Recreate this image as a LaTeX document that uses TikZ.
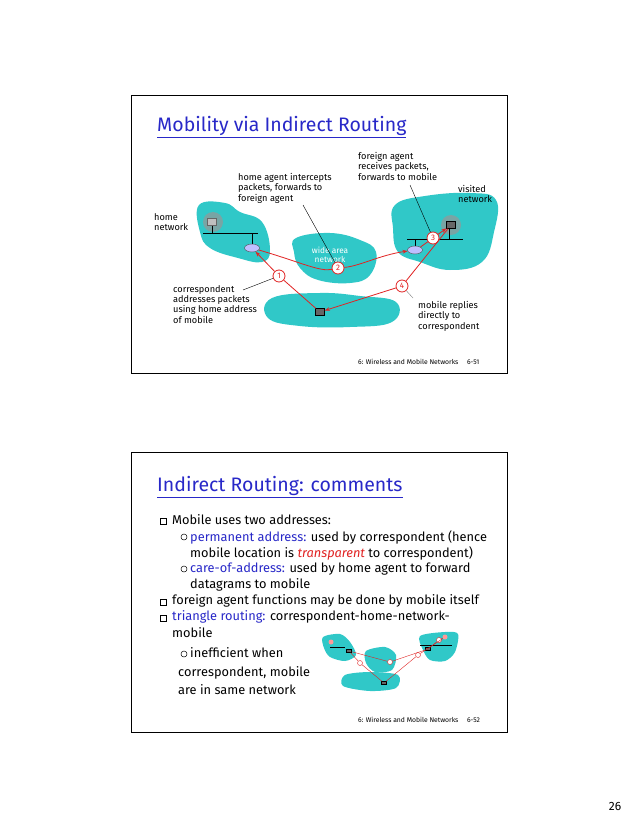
\documentclass[tikz,border=0pt]{standalone}
\usepackage{fontspec}
\setmainfont{Fira Sans}
\usetikzlibrary{shapes.geometric,arrows.meta}
\definecolor{netc}{RGB}{48,200,200}
\definecolor{ttl}{RGB}{40,40,200}
\definecolor{rl}{RGB}{225,35,35}
\tikzset{
 blob/.style={fill=netc,draw=none},
 lbl/.style={font=\fontsize{9.2}{10.4}\selectfont,align=left,anchor=north west,inner sep=0pt},
 router/.style={ellipse,draw=black!70,fill=blue!25,minimum width=15pt,minimum height=8pt,inner sep=0pt},
 pc/.style={draw=black,fill=black!60,minimum width=9pt,minimum height=7pt,inner sep=0pt},
 num/.style={circle,draw=rl,fill=white,thick,inner sep=0pt,minimum size=12pt,font=\fontsize{8}{8}\selectfont\color{rl}},
 sn/.style={circle,draw=rl,fill=white,inner sep=0pt,minimum size=5pt},
 rline/.style={draw=rl,thick},
 ptr/.style={draw=black,thin},
 slide/.style={draw=black,line width=0.8pt},
 body/.style={font=\fontsize{12.8}{14}\selectfont,anchor=west,inner sep=0pt},
 foot/.style={font=\fontsize{6.8}{7}\selectfont,anchor=west,inner sep=0pt},
 ttlst/.style={font=\fontsize{19.5}{21}\selectfont,text=ttl,anchor=west,inner sep=0pt},
 bul/.style={draw=black,minimum size=6pt,inner sep=0pt,line width=0.5pt},
 sub/.style={circle,draw=black,minimum size=6pt,inner sep=0pt,line width=0.5pt},
}
\begin{document}
\begin{tikzpicture}[x=1pt,y=-1pt]
\useasboundingbox (0,0) rectangle (638,826);
\fill[white] (0,0) rectangle (638,826);
% ===== slide 1 =====
\draw[slide] (131,95) rectangle (507,373);
\node[ttlst] (t1) at (157,127) {\underline{Mobility via Indirect Routing}};
% blobs
\fill[blob] plot[smooth cycle,tension=0.7] coordinates {(199,205)(225,203)(240,212)(262,222)(270,250)(262,262)(238,258)(210,248)(200,232)};
\fill[blob] plot[smooth cycle,tension=0.7] coordinates {(296,238)(330,233)(360,240)(376,252)(370,275)(350,283)(318,280)(300,268)(294,252)};
\fill[blob] plot[smooth cycle,tension=0.7] coordinates {(272,298)(320,293)(360,296)(396,302)(392,322)(350,327)(300,326)(268,318)};
\fill[blob] plot[smooth cycle,tension=0.7] coordinates {(395,205)(425,196)(470,193)(496,200)(494,232)(482,262)(450,270)(420,262)(398,252)(393,228)};
% home network devices
\fill[red!60,opacity=0.35] (213,222) circle (10pt);
\node[draw=black!60,fill=black!25,minimum width=9pt,minimum height=7pt,inner sep=0pt] (hm) at (212,222) {};
\draw[line width=0.8pt] (203,233) -- (258,233);
\draw (212,226) -- (212,233);
\draw (252,233) -- (252,244);
\node[router] (hr) at (252,248) {};
\node[text=white,font=\fontsize{8.3}{9.6}\selectfont,align=center,inner sep=0pt] (wan) at (330,255) {wide area\\network};
\node[pc] (cp) at (320,312) {};
% visited
\draw[line width=0.8pt] (407,239) -- (463,239);
\draw (415,239) -- (415,246);
\node[router] (vr) at (415,250) {};
\fill[red!60,opacity=0.35] (451,225) circle (10pt);
\node[pc] (mb) at (451,225) {};
\draw (449,229) -- (449,239);
% red routes
\node[num] (n1) at (279,276) {1};
\node[num] (n2) at (338,268) {2};
\node[num] (n3) at (433,238) {3};
\node[num] (n4) at (402,286) {4};
\draw[rline,-{Stealth[length=5pt]}] (cp) -- (n1) -- (hr);
\draw[rline,-{Stealth[length=5pt]}] (hr) .. controls (300,262) and (320,272) .. (n2) .. controls (360,266) and (380,255) .. (vr);
\draw[rline,-{Stealth[length=5pt]}] (vr.north east) -- (n3) -- (mb);
\draw[rline,-{Stealth[length=5pt]}] (mb) -- (n4) -- (cp);
% labels
\node[lbl] (l1) at (238,173) {home agent intercepts\\packets, forwards to\\foreign agent};
\node[lbl] (l2) at (358,152) {foreign agent\\receives packets,\\forwards to mobile};
\node[lbl] (l3) at (458,185) {visited\\network};
\node[lbl] (l4) at (154,213) {home\\network};
\node[lbl] (l5) at (173,285) {correspondent\\addresses packets\\using home address\\of mobile};
\node[lbl] (l6) at (418,301) {mobile replies\\directly to\\correspondent};
\coordinate (p1) at (303,205); \draw[ptr] (p1) -- (n2);
\coordinate (p2) at (410,185); \draw[ptr] (p2) -- (n3);
\coordinate (p3) at (243,290); \draw[ptr] (p3) -- (n1);
\coordinate (p4) at (413,298); \draw[ptr,black!50] (p4) -- (n4);
\node[foot] (f1) at (358,362) {6: Wireless and Mobile Networks \quad 6-51};
% ===== slide 2 =====
\draw[slide] (131,452) rectangle (507,732);
\node[ttlst] (t2) at (157,487) {\underline{Indirect Routing: comments}};
\node[bul] (b1) at (163,521) {};
\node[body] (s1) at (172,520) {Mobile uses two addresses:};
\node[sub] (c1) at (184,537) {};
\node[body] (s2) at (190,537) {\textcolor{ttl}{permanent address:} used by correspondent (hence};
\node[body] (s3) at (190,553) {mobile location is \textcolor{rl}{\textit{transparent}} to correspondent)};
\node[sub] (c2) at (184,569) {};
\node[body] (s4) at (190,569) {\textcolor{ttl}{care-of-address:} used by home agent to forward};
\node[body] (s5) at (190,585) {datagrams to mobile};
\node[bul] (b2) at (163,602) {};
\node[body] (s6) at (172,601) {foreign agent functions may be done by mobile itself};
\node[bul] (b3) at (163,618) {};
\node[body] (s7) at (172,617) {\textcolor{ttl}{triangle routing:} correspondent-home-network-};
\node[body] (s8) at (172,633) {mobile};
\node[sub] (c3) at (184,654) {};
\node[body] (s9) at (190,653) {inefficient when};
\node[body] (s10) at (178,673) {correspondent, mobile};
\node[body] (s11) at (178,690) {are in same network};
% small diagram
\fill[blob] plot[smooth cycle] coordinates {(323,637)(340,634)(350,642)(356,655)(345,661)(330,657)(324,648)};
\fill[blob] plot[smooth cycle] coordinates {(366,651)(385,647)(396,655)(392,670)(375,672)(366,663)};
\fill[blob] plot[smooth cycle] coordinates {(420,636)(445,632)(458,634)(455,652)(445,661)(430,660)(423,650)};
\fill[blob] plot[smooth cycle] coordinates {(345,675)(370,672)(398,675)(396,688)(370,691)(343,686)};
\draw[line width=0.5pt] (330,647) -- (345,647);
\node[circle,fill=red!40,inner sep=0pt,minimum size=5pt] (shm) at (331,642) {};
\node[draw,fill=black!60,inner sep=0pt,minimum width=5pt,minimum height=3pt] (shr) at (349,651) {};
\node[draw,fill=black!60,inner sep=0pt,minimum width=5pt,minimum height=3pt] (svr) at (428,649) {};
\node[circle,fill=red!40,inner sep=0pt,minimum size=5pt] (smb) at (445,637) {};
\node[draw,fill=black!60,inner sep=0pt,minimum width=5pt,minimum height=3pt] (scp) at (384,683) {};
\draw[line width=0.5pt] (420,645) -- (452,645);
\node[sn] (q1) at (360,663) {};
\node[sn] (q2) at (390,662) {};
\node[sn] (q3) at (439,640) {};
\node[sn] (q4) at (418,655) {};
\draw[draw=rl] (scp) -- (q1) -- (shr);
\draw[draw=rl] (shr) -- (q2) -- (svr);
\draw[draw=rl] (svr) -- (q3) -- (smb);
\draw[draw=rl] (smb) -- (q4) -- (scp);
\node[foot] (f2) at (358,720) {6: Wireless and Mobile Networks \quad 6-52};
\node[font=\fontsize{12}{12}\selectfont] (pg) at (615,806) {26};
\end{tikzpicture}
\end{document}
